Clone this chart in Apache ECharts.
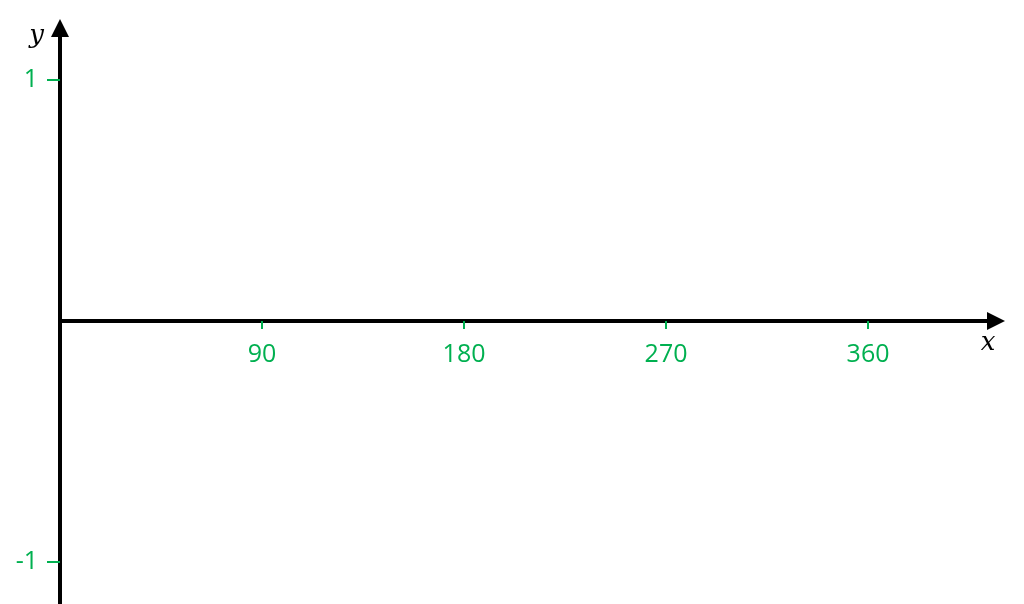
<!DOCTYPE html>
<html><head><meta charset="utf-8">
<script src="https://cdn.jsdelivr.net/npm/echarts@6/dist/echarts.min.js"></script>
<style>html,body{margin:0;padding:0;background:#fff}#c{width:1024px;height:604px}</style>
</head><body><div id="c"></div>
<script>
const xTickValues = [90, 180, 270, 360];
const yTickValues = [-1, 1];
const xRange = [0, 417];
const yRange = [-1.174, 1.216];
const xName = 'x';
const yName = 'y';

const green = '#00b050';
const chart = echarts.init(document.getElementById('c'));
const gridTop = 28, gridBottom = 0, H = 604;
// place the x axis line at y = 0 by offsetting it up from the grid bottom
const plotH = H - gridTop - gridBottom;
const zeroFromBottom = plotH * (0 - yRange[0]) / (yRange[1] - yRange[0]);
chart.setOption({
  animation: false,
  grid: { left: 60, right: 28, top: gridTop, bottom: gridBottom, containLabel: false, outerBoundsMode: 'none' },
  xAxis: {
    type: 'value', min: xRange[0], max: xRange[1],
    position: 'bottom',
    offset: -zeroFromBottom,
    name: xName,
    nameLocation: 'end',
    nameGap: 0,
    nameTextStyle: { fontFamily: 'DejaVu Serif', fontStyle: 'italic', fontSize: 26, color: '#000', align: 'center', verticalAlign: 'top', padding: [9, 0, 0, -16] },
    axisLine: { onZero: false, lineStyle: { color: '#000', width: 4 }, symbol: ['none', 'triangle'], symbolSize: [18, 18] },
    axisTick: { show: true, customValues: xTickValues, length: 8, lineStyle: { color: green, width: 2 } },
    axisLabel: { customValues: xTickValues, color: green, fontFamily: 'Open Sans', fontSize: 25, margin: 21 },
    splitLine: { show: false }
  },
  yAxis: {
    type: 'value', min: yRange[0], max: yRange[1],
    name: yName,
    nameLocation: 'end',
    nameGap: -8,
    nameTextStyle: { fontFamily: 'DejaVu Serif', fontStyle: 'italic', fontSize: 26, color: '#000', align: 'right', verticalAlign: 'middle', padding: [0, 16, 0, 0] },
    axisLine: { onZero: false, lineStyle: { color: '#000', width: 4 }, symbol: ['none', 'triangle'], symbolSize: [18, 18] },
    axisTick: { show: true, customValues: yTickValues, length: 13, lineStyle: { color: green, width: 2 } },
    axisLabel: { customValues: yTickValues, color: green, fontFamily: 'Open Sans', fontSize: 25, margin: 22 },
    splitLine: { show: false }
  },
  series: [{ type: 'line', data: [] }]
});
</script></body></html>
